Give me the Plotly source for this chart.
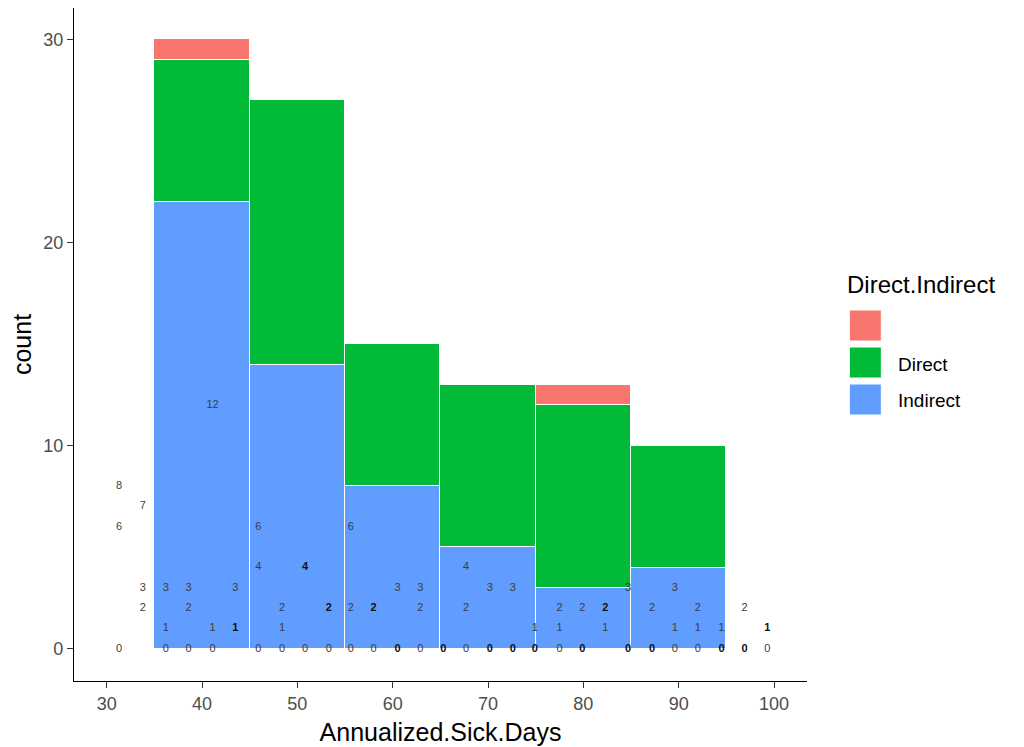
import plotly.graph_objects as go

# histogram bins (binwidth 10) and stacked counts per group
bin_centers = [40, 50, 60, 70, 80, 90]
count_indirect = [22, 14, 8, 5, 3, 4]
count_direct = [7, 13, 7, 8, 9, 6]
count_blank = [1, 0, 0, 0, 1, 0]

group_names = ["", "Direct", "Indirect"]
group_colors = ["#F8766D", "#00BA38", "#619CFF"]

# text labels drawn over the histogram (x, value, overlapping/bold)
label_x = [31.3, 31.3, 31.3, 33.8, 33.8, 33.8, 36.2, 36.2, 36.2,
           38.6, 38.6, 38.6, 41.1, 41.1, 41.1, 43.5, 43.5,
           45.9, 45.9, 45.9, 48.4, 48.4, 48.4, 50.8, 50.8, 53.3, 53.3,
           55.6, 55.6, 55.6, 58.0, 58.0, 60.5, 60.5, 62.9, 62.9, 62.9,
           65.3, 67.7, 67.7, 67.7, 70.2, 70.2, 72.6, 72.6, 74.9, 74.9,
           77.5, 77.5, 77.5, 79.9, 79.9, 82.3, 82.3, 84.7, 84.7,
           87.2, 87.2, 89.6, 89.6, 89.6, 92.0, 92.0, 92.0,
           94.5, 94.5, 96.9, 96.9, 99.3, 99.3]
label_y = [8, 6, 0, 7, 3, 2, 3, 1, 0,
           3, 2, 0, 12, 1, 0, 3, 1,
           6, 4, 0, 2, 1, 0, 4, 0, 2, 0,
           6, 2, 0, 2, 0, 3, 0, 3, 2, 0,
           0, 4, 2, 0, 3, 0, 3, 0, 1, 0,
           2, 1, 0, 2, 0, 2, 1, 3, 0,
           2, 0, 3, 1, 0, 2, 1, 0,
           1, 0, 2, 0, 1, 0]
label_bold = [0, 0, 0, 0, 0, 0, 0, 0, 0,
              0, 0, 0, 0, 0, 0, 0, 1,
              0, 0, 0, 0, 0, 0, 1, 0, 1, 0,
              0, 0, 0, 1, 0, 0, 1, 0, 0, 0,
              1, 0, 0, 0, 0, 1, 0, 1, 0, 1,
              0, 0, 0, 0, 1, 1, 0, 0, 1,
              0, 1, 0, 0, 0, 0, 0, 0,
              0, 1, 0, 1, 1, 0]

FONT = "Liberation Sans, Arial, sans-serif"

fig = go.Figure()

stack = [count_indirect, count_direct, count_blank]
stack_idx = [2, 1, 0]
for vals, gi in zip(stack, stack_idx):
    fig.add_trace(go.Bar(
        x=bin_centers, y=vals, width=10,
        name=group_names[gi],
        marker=dict(color=group_colors[gi], line=dict(color="white", width=1.2)),
        showlegend=False,
    ))

for flag, col in [(0, "#3d3d3d"), (1, "#111111")]:
    xs = [x for x, b in zip(label_x, label_bold) if b == flag]
    ys = [y for y, b in zip(label_y, label_bold) if b == flag]
    fig.add_trace(go.Scatter(
        x=xs, y=ys, mode="text", text=[str(v) for v in ys],
        textposition="middle center",
        textfont=dict(family=FONT, size=11, color=col, weight=700 if flag else 400),
        showlegend=False, hoverinfo="skip",
    ))

# page has an 8px body margin; plot area on screen spans these pixels
W, H = 1016, 739
L, R, T, B = 74, 806.7, 8, 681
PAGE = 8


def px(xp):
    return (xp - L) / (R - L)


def py(yp):
    return (B - yp) / (B - T)


shapes = []
annotations = [dict(
    x=px(845), y=py(284), xref="paper", yref="paper", xanchor="left", yanchor="middle",
    text="Direct.Indirect", showarrow=False, font=dict(family=FONT, size=24, color="black"),
)]
for i, (name, col) in enumerate(zip(group_names, group_colors)):
    top = 310 + i * 37
    shapes.append(dict(
        type="rect", xref="paper", yref="paper",
        x0=px(849), x1=px(881), y0=py(top + 31), y1=py(top),
        fillcolor=col, line=dict(color="white", width=1),
    ))
    if name:
        annotations.append(dict(
            x=px(896), y=py(top + 17), xref="paper", yref="paper",
            xanchor="left", yanchor="middle", text=name, showarrow=False,
            font=dict(family=FONT, size=19, color="black"),
        ))

fig.update_layout(
    width=W, height=H,
    barmode="stack", bargap=0,
    plot_bgcolor="white", paper_bgcolor="white",
    margin=dict(l=L - PAGE, r=W - (R - PAGE), t=T - PAGE, b=H - (B - PAGE), pad=0),
    font=dict(family=FONT),
    shapes=shapes, annotations=annotations,
    xaxis=dict(
        range=[26.57, 103.46], tickvals=[30, 40, 50, 60, 70, 80, 90, 100],
        automargin=False,
        showline=True, linecolor="black", linewidth=1.3, showgrid=False, zeroline=False,
        ticks="outside", ticklen=6, tickcolor="#333333", tickwidth=1.2,
        tickfont=dict(size=18, color="#4d4d4d"),
        title=dict(text="Annualized.Sick.Days", font=dict(size=25, color="black"), standoff=10),
    ),
    yaxis=dict(
        range=[-1.58, 31.55], tickvals=[0, 10, 20, 30],
        automargin=False,
        showline=True, linecolor="black", linewidth=1.3, showgrid=False, zeroline=False,
        ticks="outside", ticklen=6, tickcolor="#333333", tickwidth=1.2,
        tickfont=dict(size=18, color="#4d4d4d"),
        title=dict(text="count", font=dict(size=25, color="black"), standoff=8),
    ),
)

fig.write_html("out.html")
